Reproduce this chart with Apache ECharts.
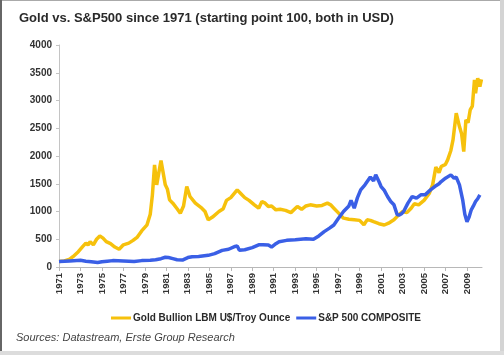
<!DOCTYPE html>
<html>
<head>
<meta charset="utf-8">
<script src="https://cdn.jsdelivr.net/npm/echarts@6/dist/echarts.min.js"></script>
<style>
html,body{margin:0;padding:0;background:#fff;}
#c{width:504px;height:355px;}
</style>
</head>
<body>
<div id="c"></div>
<script>
const titleText = "Gold vs. S&P500 since 1971 (starting point 100, both in USD)";
const sourceText = "Sources: Datastream, Erste Group Research";
const goldName = "Gold Bullion LBM U$/Troy Ounce";
const spxName = "S&P 500 COMPOSITE";
const startYear = 1971;
const yTicks = [0, 500, 1000, 1500, 2000, 2500, 3000, 3500, 4000];

const goldYears = [1971.0,1971.5,1972.0,1972.3,1972.8,1973.2,1973.5,1973.7,1973.9,1974.2,1974.5,1974.8,1975.1,1975.4,1975.8,1976.2,1976.6,1977.0,1977.5,1977.9,1978.3,1978.7,1979.2,1979.5,1979.7,1979.9,1980.1,1980.3,1980.5,1980.7,1980.9,1981.1,1981.3,1981.6,1982.0,1982.3,1982.6,1982.9,1983.2,1983.7,1984.3,1984.6,1984.9,1985.3,1985.9,1986.3,1986.6,1987.0,1987.6,1987.9,1988.3,1988.7,1989.2,1989.6,1989.9,1990.2,1990.5,1990.8,1991.2,1991.6,1992.1,1992.6,1993.2,1993.6,1994.0,1994.4,1995.0,1995.5,1996.0,1996.3,1996.6,1997.0,1997.5,1998.0,1998.5,1999.0,1999.4,1999.7,2000.0,2000.3,2000.8,2001.3,2001.7,2002.2,2002.6,2003.0,2003.4,2003.8,2004.1,2004.5,2005.0,2005.5,2005.8,2006.1,2006.4,2006.6,2007.0,2007.2,2007.5,2007.7,2008.0,2008.3,2008.5,2008.7,2008.9,2009.1,2009.3,2009.5,2009.7,2009.8,2010.0,2010.2,2010.35];
const goldValues = [100,110,140,186,276,366,430,396,456,400,500,560,520,456,420,360,320,400,430,480,540,650,760,950,1300,1840,1480,1700,1920,1700,1480,1400,1210,1150,1050,970,1100,1450,1270,1150,1060,1000,850,900,1000,1050,1200,1250,1390,1330,1250,1200,1120,1060,1180,1150,1090,1100,1030,1040,1020,980,1090,1040,1100,1120,1100,1110,1150,1120,1060,980,880,860,850,840,760,850,840,816,780,757,790,850,930,1000,980,1060,1140,1120,1200,1330,1480,1800,1700,1810,1850,1930,2100,2290,2770,2530,2400,2080,2650,2600,2830,2900,3370,3130,3400,3250,3380];

const spxYears = [1971.0,1972.0,1973.0,1973.5,1974.0,1974.6,1975.0,1975.5,1976.0,1977.0,1978.0,1978.7,1979.5,1980.0,1980.5,1980.9,1981.2,1981.6,1982.0,1982.5,1983.0,1983.4,1984.0,1984.9,1985.5,1986.2,1986.8,1987.4,1987.6,1987.8,1988.3,1989.0,1989.6,1990.0,1990.5,1990.8,1991.2,1991.5,1992.2,1993.0,1994.0,1994.7,1995.2,1995.7,1996.2,1996.6,1997.0,1997.5,1998.0,1998.2,1998.5,1998.8,1999.1,1999.5,2000.0,2000.3,2000.5,2000.8,2001.0,2001.3,2001.6,2001.9,2002.2,2002.5,2002.7,2002.9,2003.1,2003.5,2003.9,2004.3,2004.7,2005.1,2005.6,2006.0,2006.4,2006.6,2007.0,2007.5,2007.8,2008.0,2008.3,2008.6,2008.8,2009.0,2009.2,2009.4,2009.6,2009.8,2010.0,2010.2];
const spxValues = [100,110,120,105,95,80,95,105,115,110,100,115,120,130,150,175,170,150,130,125,170,186,190,210,240,300,320,370,380,300,310,350,400,400,396,360,420,456,480,490,510,500,560,637,700,757,870,1000,1100,1200,1060,1250,1390,1480,1620,1550,1660,1540,1450,1380,1270,1180,1120,940,937,960,1000,1150,1270,1240,1300,1300,1390,1450,1500,1540,1600,1660,1600,1620,1480,1210,950,816,900,1030,1100,1180,1230,1300];

const goldColor = '#f6c10c';
const spxColor = '#3a5fe6';
const font = '"Liberation Sans", Arial, sans-serif';

function pairs(xs, ys){ return xs.map((x,i)=>[x - startYear, ys[i]]); }

const chart = echarts.init(document.getElementById('c'), null, {renderer:'canvas'});
chart.setOption({
  animation: false,
  backgroundColor: '#fff',
  title: {
    text: titleText, left: 14, top: 7,
    textStyle: {fontFamily: font, fontSize: 13, fontWeight: 'bold', color: '#2a2a2a'}
  },
  legend: {
    left: 106, top: 308, itemWidth: 20, itemHeight: 3, itemGap: 6,
    icon: 'rect',
    textStyle: {fontFamily: font, fontSize: 10, fontWeight: 'bold', color: '#2a2a2a', padding:[0,0,0,-3]},
    data: [goldName, spxName]
  },
  grid: {left: 59, right: 22, top: 45, bottom: 88, containLabel: false},
  xAxis: {
    type: 'value', min: 0, max: 39.4, interval: 2,
    axisLine: {show: true, lineStyle: {color: '#b8b8b8', width: 1}},
    axisTick: {show: true, length: 4, lineStyle: {color: '#b8b8b8'}},
    splitLine: {show: false},
    axisLabel: {
      rotate: 90, margin: 6, showMaxLabel: false,
      fontFamily: font, fontSize: 9.5, fontWeight: 'bold', color: '#333',
      formatter: v => (Math.abs(v - Math.round(v)) < 1e-6 ? String(startYear + Math.round(v)) : '')
    }
  },
  yAxis: {
    type: 'value', min: yTicks[0], max: yTicks[yTicks.length-1], interval: yTicks[1]-yTicks[0],
    axisLine: {show: true, lineStyle: {color: '#c4c4c4', width: 1}},
    axisTick: {show: true, length: 3, lineStyle: {color: '#c4c4c4'}},
    splitLine: {show: false},
    axisLabel: {margin: 7, fontFamily: font, fontSize: 10, fontWeight: 'bold', color: '#333',
      formatter: v => String(v)}
  },
  series: [
    {name: goldName, type: 'line', data: pairs(goldYears, goldValues), showSymbol: false, symbol: 'none',
     lineStyle: {color: goldColor, width: 3.5}, itemStyle: {color: goldColor}},
    {name: spxName, type: 'line', data: pairs(spxYears, spxValues), showSymbol: false, symbol: 'none',
     lineStyle: {color: spxColor, width: 3.5}, itemStyle: {color: spxColor}}
  ],
  graphic: [
    {type: 'text', left: 16, top: 332,
     style: {text: sourceText, fontFamily: font, fontSize: 11, fontStyle: 'italic', fill: '#444'}},
    {type: 'rect', shape: {x: 0, y: 0, width: 504, height: 1}, style: {fill: '#aaa'}},
    {type: 'rect', shape: {x: 0, y: 0, width: 2, height: 355}, style: {fill: '#666'}},
    {type: 'rect', shape: {x: 500, y: 0, width: 4, height: 355}, style: {fill: '#d4d4d4'}},
    {type: 'rect', shape: {x: 0, y: 351, width: 504, height: 4}, style: {fill: '#dcdcdc'}}
  ]
});
</script>
</body>
</html>
